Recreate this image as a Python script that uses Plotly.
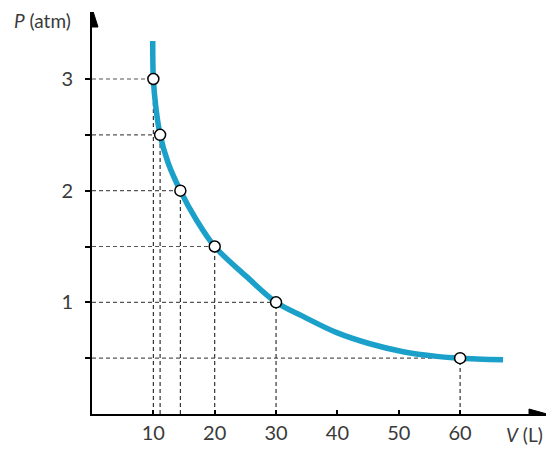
"""
Boyle's law sketch: P vs V for a fixed amount of gas, with dashed guides
from each measured point down to the axes.
"""

import plotly.graph_objects as go

VOLUME = [10, 11.1, 14.4, 20, 30, 60]
PRESSURE = [3, 2.5, 2, 1.5, 1, 0.5]

# hand-drawn curve through the points
CURVE_V = [9.9, 10.0, 10.4, 11.1, 12.4, 14.4, 17.0, 20.0, 25.2, 30.0,
           34.4, 39.8, 45.3, 50.7, 56.2, 60.0, 67.0]
CURVE_P = [3.34, 3.0, 2.75, 2.5, 2.25, 2.0, 1.74, 1.5, 1.23, 1.0,
           0.874, 0.731, 0.629, 0.558, 0.516, 0.50, 0.486]

X_TICKS = [10, 20, 30, 40, 50, 60]
Y_TICKS = [0.5, 1, 1.5, 2, 2.5, 3]
Y_LABELS = ["", "1", "", "2", "", "3"]

FONT = "Lato"
INK = "#3a3a3a"

# dashed guide lines: point -> y axis, point -> x axis
hx, hy, vx, vy = [], [], [], []
for v, p in zip(VOLUME, PRESSURE):
    hx += [0, v, None]
    hy += [p, p, None]
    vx += [v, v, None]
    vy += [0, p, None]

fig = go.Figure()

fig.add_trace(go.Scatter(
    x=hx, y=hy, mode="lines",
    line=dict(color="#555", width=1.1, dash="4px,3px"),
    hoverinfo="skip", showlegend=False,
))
fig.add_trace(go.Scatter(
    x=vx, y=vy, mode="lines",
    line=dict(color="#222", width=1.1, dash="4px,3px"),
    hoverinfo="skip", showlegend=False,
))

fig.add_trace(go.Scatter(
    x=CURVE_V, y=CURVE_P, mode="lines",
    line=dict(color="#1BA1C9", width=5.5, shape="spline", smoothing=1.0),
    hoverinfo="skip", showlegend=False,
))

fig.add_trace(go.Scatter(
    x=VOLUME, y=PRESSURE, mode="markers",
    marker=dict(size=11, color="white", line=dict(color="black", width=1.5)),
    showlegend=False, cliponaxis=False,
))

# arrow heads on the axes (pixel-sized, anchored at the axis ends)
fig.add_shape(
    type="path", xref="x", yref="y",
    xsizemode="pixel", ysizemode="pixel", xanchor=0, yanchor=3.6,
    path="M -6 -15 L 0 4 L 6 -15 Z",
    fillcolor="black", line=dict(color="black", width=1),
)
fig.add_shape(
    type="path", xref="x", yref="y",
    xsizemode="pixel", ysizemode="pixel", xanchor=74, yanchor=0,
    path="M -17 -5 L 1 0 L -17 5 Z",
    fillcolor="black", line=dict(color="black", width=1),
)

fig.add_annotation(
    x=0, y=3.6, xref="x", yref="y", xanchor="right", yanchor="middle",
    xshift=-19, yshift=-8, showarrow=False,
    text="<i>P</i> (atm)", font=dict(family=FONT, size=19, color=INK),
)
fig.add_annotation(
    x=74, y=0, xref="x", yref="y", xanchor="right", yanchor="middle",
    xshift=-1, yshift=-20, showarrow=False,
    text="<i>V</i> (L)", font=dict(family=FONT, size=19, color=INK),
)

fig.update_layout(
    width=555,
    height=452,
    margin=dict(l=92, r=9, t=12, b=38),
    plot_bgcolor="white",
    paper_bgcolor="white",
    font=dict(family=FONT, size=20, color=INK),
    xaxis=dict(
        range=[0, 74], showgrid=False, zeroline=False, automargin=False,
        showline=True, linecolor="black", linewidth=2,
        tickvals=X_TICKS, ticks="inside", ticklen=4, tickwidth=1.5, tickcolor="black",
        ticklabelstandoff=0,
    ),
    yaxis=dict(
        range=[0, 3.6], showgrid=False, zeroline=False, automargin=False,
        showline=True, linecolor="black", linewidth=2,
        tickvals=Y_TICKS, ticktext=Y_LABELS,
        ticks="outside", ticklen=5, tickwidth=1.5, tickcolor="black",
        ticklabelstandoff=8,
    ),
)

# the page's default body margin would push the figure off the window
fig.write_html(
    "out.html",
    config={"displayModeBar": False, "responsive": False},
    post_script="document.body.style.margin = '0';",
)
